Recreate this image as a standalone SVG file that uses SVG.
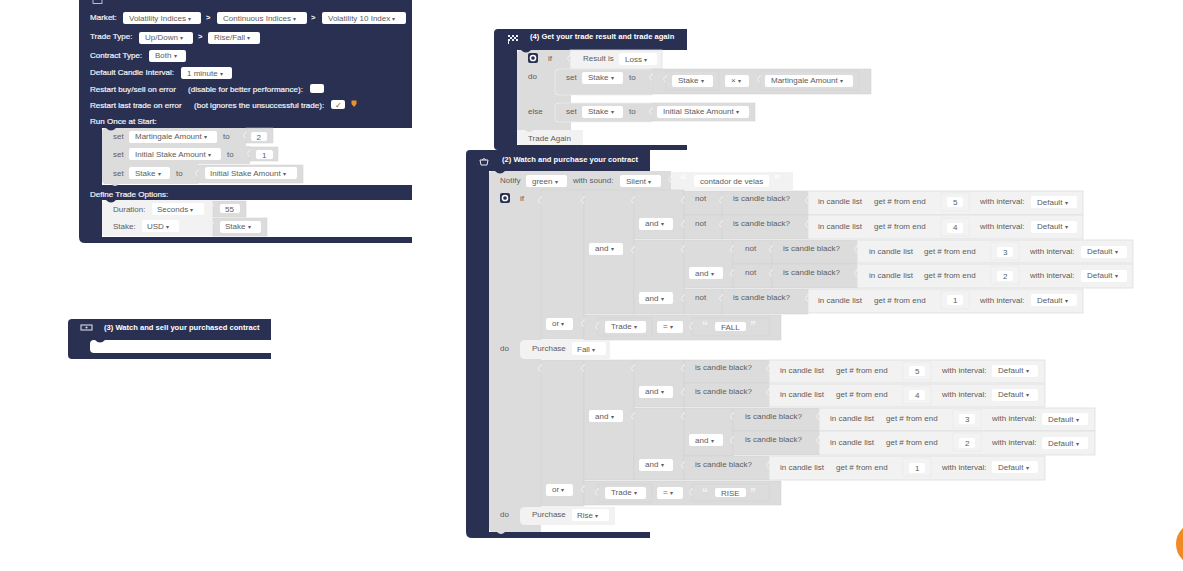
<svg xmlns="http://www.w3.org/2000/svg" width="1183" height="571" viewBox="0 0 1183 571">
<style>
text{font-family:"Liberation Sans",Arial,sans-serif;font-size:8px;fill:#5c5c5c}
.w{fill:#fff;font-weight:bold;font-size:7.6px}
.r{fill:#f2f4f8;stroke:#f2f4f8;stroke-width:.2px;font-size:8.05px}
.a{font-size:5.500px}
.q{fill:#f4f4f4;font-size:12px;font-weight:bold}
.navy{fill:#2a3052}
.g{fill:#dcdcdc;stroke:#d0d0d0;stroke-width:.5}
.gn{fill:#dcdcdc}
.gs{fill:#dcdcdc;stroke:#eeeeee;stroke-width:.7}
.l{fill:#f2f2f2;stroke:#dedede;stroke-width:.8}
.ln{fill:#f2f2f2}
.c{fill:#fff}
.t{fill:none;stroke:#f3f3f3;stroke-width:1}
.v{fill:#f3f3f3;stroke:#e6e6e6;stroke-width:.6}
</style>
<defs>
<path id="tab" class="t" d="M0 0v2c-3 0-3 5 0 5"/>
<path id="bump" class="navy" d="M0 0q5 5 10 0z"/>
<path id="bumpg" class="gn" d="M0 0q4 4 8 0z"/>
<g id="gear"><rect x="-5" y="-5" width="10" height="10" rx="2" fill="#2a3052"/><circle r="2.600" fill="none" stroke="#fff" stroke-width="1.500"/></g>
</defs>

<g id="block-trade-definition">
<path class="navy" d="M79 0H412V243H85q-6 0-6-6Z"/>
<rect x="93" y="-1" width="9" height="4.500" fill="none" stroke="#dfe1ea" stroke-width=".8"/>
<g id="field-market"><text class="r" x="90" y="20">Market:</text>
<rect class="c" x="123" y="12" width="78" height="12" rx="2"/><text x="129" y="20.500">Volatility Indices <tspan class="a">▾</tspan></text>
<text class="w" x="206" y="20">&gt;</text>
<rect class="c" x="217" y="12" width="90" height="12" rx="2"/><text x="223" y="20.500">Continuous Indices <tspan class="a">▾</tspan></text>
<text class="w" x="311" y="20">&gt;</text>
<rect class="c" x="322" y="12" width="84" height="12" rx="2"/><text x="328" y="20.500">Volatility 10 Index <tspan class="a">▾</tspan></text></g>
<g id="field-trade-type"><text class="r" x="90" y="39">Trade Type:</text>
<rect class="c" x="139" y="32" width="54" height="12" rx="2"/><text x="145" y="40">Up/Down <tspan class="a">▾</tspan></text>
<text class="w" x="198" y="39">&gt;</text>
<rect class="c" x="208" y="32" width="52" height="12" rx="2"/><text x="214" y="40">Rise/Fall <tspan class="a">▾</tspan></text></g>
<g id="field-contract"><text class="r" x="90" y="58">Contract Type:</text>
<rect class="c" x="149" y="50" width="37" height="12" rx="2"/><text x="155" y="58">Both <tspan class="a">▾</tspan></text></g>
<g id="field-candle"><text class="r" x="90" y="75">Default Candle Interval:</text>
<rect class="c" x="181" y="67" width="51" height="12" rx="2"/><text x="187" y="75.500">1 minute <tspan class="a">▾</tspan></text></g>
<g id="field-restart-buy"><text class="r" x="90" y="92">Restart buy/sell on error</text><text class="r" x="188" y="92">(disable for better performance):</text>
<rect class="c" x="310" y="84" width="14" height="9" rx="2"/></g>
<g id="field-restart-last"><text class="r" x="90" y="108">Restart last trade on error</text><text class="r" x="194" y="108">(bot ignores the unsuccessful trade):</text>
<rect class="c" x="331" y="100" width="14" height="9" rx="2"/><text x="334.500" y="108">✓</text>
<path d="M351.500 100.500h5v3.500l-2.500 3l-2.500-3z" fill="#e8912d"/></g>
<text class="r" x="90" y="124">Run Once at Start:</text>

<path class="c" d="M102 128H412V185H102Z"/>
<g id="set-martingale"><path class="gn" d="M102 132q0-4 4-4H246V146H102Z"/>
<rect class="g" x="246" y="128" width="27" height="15"/><use href="#tab" x="246" y="131"/>
<rect class="c" x="129" y="131" width="88" height="12" rx="2"/>
<text x="113" y="139">set</text><text x="135" y="139">Martingale Amount <tspan class="a">▾</tspan></text><text x="223" y="139">to</text>
<rect class="c" x="251" y="132" width="16" height="9" rx="2"/><text x="256.500" y="139.500">2</text></g>
<use href="#bump" x="106" y="128"/>
<g id="set-initial"><path class="gn" d="M102 146H250V164H102Z"/>
<rect class="g" x="250" y="147" width="28" height="14"/><use href="#tab" x="250" y="149"/>
<rect class="c" x="129" y="148" width="92" height="12" rx="2"/>
<text x="113" y="157">set</text><text x="135" y="157">Initial Stake Amount <tspan class="a">▾</tspan></text><text x="227" y="157">to</text>
<rect class="c" x="256" y="150" width="17" height="9" rx="2"/><text x="262" y="157.500">1</text></g>
<g id="set-stake"><path class="gn" d="M102 164H198V184H106q-4 0-4-4Z"/>
<rect class="g" x="198" y="165" width="105" height="18"/><use href="#tab" x="198" y="169"/>
<rect class="c" x="129" y="167" width="41" height="12" rx="2"/>
<text x="113" y="176">set</text><text x="135" y="176">Stake <tspan class="a">▾</tspan></text><text x="176" y="176">to</text>
<rect class="c" x="205" y="167" width="92" height="12" rx="2"/><text x="210" y="176">Initial Stake Amount <tspan class="a">▾</tspan></text></g>
<use href="#bumpg" x="111" y="184"/>
<text class="r" x="90" y="197">Define Trade Options:</text>
<path class="c" d="M102 200H412V237H102Z"/>
<g id="trade-options"><path class="ln" d="M106 200H213V236H106q-4 0-4-4V204q0-4 4-4Z"/>
<rect class="c" x="152" y="203" width="52" height="12" rx="2"/>
<text x="113" y="212">Duration:</text><text x="157" y="212">Seconds <tspan class="a">▾</tspan></text>
<rect class="c" x="142" y="220" width="37" height="12" rx="2"/>
<text x="113" y="229">Stake:</text><text x="147" y="229">USD <tspan class="a">▾</tspan></text>
<rect class="g" x="213" y="201" width="33" height="16"/><use href="#tab" x="213" y="204"/>
<rect class="c" x="220" y="204" width="20" height="9" rx="2"/><text x="225" y="212">55</text>
<rect class="g" x="213" y="218" width="54" height="18"/><use href="#tab" x="213" y="222"/>
<rect class="c" x="220" y="221" width="41" height="12" rx="2"/><text x="225" y="229">Stake <tspan class="a">▾</tspan></text></g>
<use href="#bump" x="106" y="200"/>
</g>

<g id="block-sell">
<path class="navy" d="M68 323q0-4 4-4H271V359H72q-4 0-4-4Z"/>
<rect x="81" y="325" width="11" height="5" fill="none" stroke="#e8e9ef" stroke-width="1"/><circle cx="86.500" cy="327.500" r="1" fill="#e8e9ef"/>
<text class="w" x="104" y="330">(3) Watch and sell your purchased contract</text>
<path class="c" d="M94 340H271V353H94q-4 0-4-4V344q0-4 4-4Z"/>
<use href="#bump" x="95" y="340"/>
</g>

<g id="block-result">
<path class="navy" d="M498 29H687V150H498q-4 0-4-4V33q0-4 4-4Z"/>
<path fill="#eceef3" d="M508 35h2v2h-2zM512 35h2v2h-2zM516 35h2v2h-2zM510 37h2v2h-2zM514 37h2v2h-2zM508 39h2v2h-2zM512 39h2v2h-2zM516 39h2v2h-2zM508 41h1v3h-1z"/>
<text class="w" x="530" y="39">(4) Get your trade result and trade again</text>
<path class="c" d="M517 50H687V145H517Z"/>
<g id="if-result"><path class="gn" d="M521 50H570V69H556V95H571V103H556V122H571V130H517V54q0-4 4-4Z"/>
<use href="#gear" x="533" y="58"/><text x="548" y="61">if</text><text x="528" y="79">do</text><text x="528" y="114">else</text>
<rect class="l" x="570" y="50" width="92" height="19"/><use href="#tab" x="570" y="54"/>
<text x="583" y="61">Result is</text><rect class="c" x="619" y="53" width="38" height="12" rx="2"/><text x="625" y="62">Loss <tspan class="a">▾</tspan></text>
</g>
<use href="#bump" x="521" y="50"/>
<g id="set-stake-mult"><path class="gs" d="M559 69H652V95H559q-4 0-4-4V73q0-4 4-4Z"/>
<rect class="c" x="582" y="72" width="41" height="12" rx="2"/><text x="566" y="80">set</text><text x="588" y="80">Stake <tspan class="a">▾</tspan></text><text x="629" y="80">to</text>
<rect class="g" x="652" y="69" width="219" height="25"/><use href="#tab" x="652" y="73"/>
<rect class="g" x="666" y="71" width="53" height="19"/><rect class="c" x="672" y="75" width="41" height="12" rx="2"/><text x="678" y="83">Stake <tspan class="a">▾</tspan></text><use href="#tab" x="666" y="75"/>
<rect class="c" x="725" y="75" width="24" height="12" rx="2"/><text x="731" y="83">× <tspan class="a">▾</tspan></text>
<rect class="g" x="760" y="71" width="99" height="19"/><rect class="c" x="765" y="75" width="88" height="12" rx="2"/><text x="771" y="83">Martingale Amount <tspan class="a">▾</tspan></text><use href="#tab" x="760" y="75"/>
</g>
<g id="set-stake-initial"><path class="gs" d="M559 103H652V122H559q-4 0-4-4V107q0-4 4-4Z"/>
<rect class="c" x="582" y="106" width="41" height="12" rx="2"/><text x="566" y="114">set</text><text x="588" y="114">Stake <tspan class="a">▾</tspan></text><text x="629" y="114">to</text>
<rect class="g" x="652" y="103" width="103" height="18"/><use href="#tab" x="652" y="107"/><rect class="c" x="657" y="106" width="92" height="12" rx="2"/><text x="663" y="114">Initial Stake Amount <tspan class="a">▾</tspan></text>
</g>
<g id="trade-again"><path class="ln" d="M517 130H583V145H521q-4 0-4-4Z"/><use href="#bumpg" x="525" y="130"/><text x="528" y="141">Trade Again</text></g>
</g>

<g id="block-purchase">
<path class="navy" d="M470 150H650V538H472q-6 0-6-6V154q0-4 4-4Z"/>
<path d="M480 160h8l-1 5h-6zM482 160q2-3 4 0" fill="none" stroke="#e8e9ef" stroke-width="1"/>
<text class="w" x="502" y="162">(2) Watch and purchase your contract</text>
<path class="c" d="M489 171H650V532H489Z"/>
<g id="notify"><path class="gn" d="M493 171H671V190H489V175q0-4 4-4Z"/>
<text x="500" y="183">Notify</text><rect class="c" x="526" y="175" width="41" height="12" rx="2"/><text x="532" y="184">green <tspan class="a">▾</tspan></text>
<text x="573" y="183">with sound:</text><rect class="c" x="620" y="175" width="41" height="12" rx="2"/><text x="626" y="184">Silent <tspan class="a">▾</tspan></text>
<rect class="ln" x="671" y="172" width="122" height="18"/><use href="#tab" x="671" y="175"/><text class="q" x="680" y="183.600" style="fill:#fff">“</text><rect class="c" x="694" y="175" width="75" height="12" rx="2"/><text x="700" y="184">contador de velas</text><text class="q" x="774" y="183.600" style="fill:#fff">”</text>
</g>
<use href="#bump" x="495" y="171"/>
<g id="if-do-block"><path class="gn" d="M489 190H541V339H541V532H493q-4 0-4-4Z"/>
<use href="#gear" x="505" y="198"/><text x="520" y="201">if</text><text x="500" y="351">do</text><text x="500" y="370">else if</text><text x="500" y="517">do</text>
</g>
<use href="#bumpg" x="497" y="532"/>

<g id="cond-1">
<rect class="g" x="541" y="190" width="43" height="149"/>
<rect class="c" x="546" y="318" width="27" height="12" rx="2"/><text x="552" y="326">or <tspan class="a">▾</tspan></text><use href="#tab" x="541" y="196"/>
<rect class="g" x="584" y="190" width="50" height="124"/><rect class="c" x="589" y="243" width="34" height="12" rx="2"/><text x="595" y="251">and <tspan class="a">▾</tspan></text><use href="#tab" x="584" y="196"/>
<rect class="g" x="634" y="190" width="50" height="49"/><rect class="c" x="639" y="218" width="34" height="12" rx="2"/><text x="645" y="226">and <tspan class="a">▾</tspan></text><use href="#tab" x="634" y="196"/>
<rect class="g" x="634" y="240" width="50" height="74"/><rect class="c" x="639" y="292" width="34" height="12" rx="2"/><text x="645" y="301">and <tspan class="a">▾</tspan></text><use href="#tab" x="634" y="246"/>
<rect class="g" x="684" y="240" width="49" height="48"/><rect class="c" x="689" y="267" width="34" height="12" rx="2"/><text x="695" y="276">and <tspan class="a">▾</tspan></text><use href="#tab" x="684" y="245"/>
<rect class="g" x="684" y="191" width="38" height="24"/><text x="695" y="201">not</text>
<rect class="g" x="722" y="191" width="86" height="24"/><text x="733" y="201">is candle black?</text>
<rect class="g" x="684" y="215" width="38" height="24"/><text x="695" y="226">not</text>
<rect class="g" x="722" y="215" width="86" height="24"/><text x="733" y="226">is candle black?</text>
<rect class="g" x="733" y="240" width="39" height="24"/><text x="745" y="251">not</text>
<rect class="g" x="772" y="240" width="85" height="24"/><text x="783" y="251">is candle black?</text>
<rect class="g" x="733" y="264" width="39" height="24"/><text x="745" y="275">not</text>
<rect class="g" x="772" y="264" width="85" height="24"/><text x="783" y="275">is candle black?</text>
<rect class="g" x="684" y="289" width="38" height="25"/><text x="695" y="300">not</text>
<rect class="g" x="722" y="289" width="86" height="25"/><text x="733" y="300">is candle black?</text>
<use href="#tab" x="684" y="196"/><use href="#tab" x="684" y="220"/><use href="#tab" x="722" y="196"/><use href="#tab" x="722" y="220"/><use href="#tab" x="733" y="245"/><use href="#tab" x="733" y="269"/><use href="#tab" x="772" y="245"/><use href="#tab" x="772" y="269"/><use href="#tab" x="684" y="294"/><use href="#tab" x="722" y="294"/>
</g>

<g id="list-1a" transform="translate(808 191)"><rect class="l" width="275" height="24"/><text x="10" y="13">in candle list</text><text x="66" y="13">get # from end</text><rect class="v" x="133" y="2" width="28" height="18"/><rect class="c" x="139" y="6" width="16" height="10" rx="2"/><text x="145" y="14">5</text><text x="172" y="13">with interval:</text><rect class="c" x="223" y="5" width="46" height="12" rx="2"/><text x="229" y="14">Default <tspan class="a">▾</tspan></text></g>
<g id="list-1b" transform="translate(808 215)"><rect class="l" width="275" height="24"/><text x="10" y="14">in candle list</text><text x="66" y="14">get # from end</text><rect class="v" x="133" y="3" width="28" height="18"/><rect class="c" x="139" y="8" width="16" height="10" rx="2"/><text x="145" y="15">4</text><text x="172" y="14">with interval:</text><rect class="c" x="223" y="6" width="46" height="12" rx="2"/><text x="229" y="14">Default <tspan class="a">▾</tspan></text></g>
<g id="list-1c" transform="translate(857 240)"><rect class="l" width="276" height="23"/><text x="12" y="14">in candle list</text><text x="67" y="14">get # from end</text><rect class="v" x="134" y="2" width="28" height="18"/><rect class="c" x="140" y="7" width="16" height="10" rx="2"/><text x="146" y="14.500">3</text><text x="173" y="14">with interval:</text><rect class="c" x="224" y="6" width="46" height="12" rx="2"/><text x="230" y="14">Default <tspan class="a">▾</tspan></text></g>
<g id="list-1d" transform="translate(857 264)"><rect class="l" width="276" height="24"/><text x="12" y="14">in candle list</text><text x="67" y="14">get # from end</text><rect class="v" x="134" y="2" width="28" height="18"/><rect class="c" x="140" y="7" width="16" height="10" rx="2"/><text x="146" y="14.500">2</text><text x="173" y="14">with interval:</text><rect class="c" x="224" y="6" width="46" height="12" rx="2"/><text x="230" y="14">Default <tspan class="a">▾</tspan></text></g>
<g id="list-1e" transform="translate(808 289)"><rect class="l" width="275" height="24"/><text x="10" y="14">in candle list</text><text x="66" y="14">get # from end</text><rect class="v" x="133" y="2" width="28" height="18"/><rect class="c" x="139" y="6" width="16" height="10" rx="2"/><text x="145" y="14">1</text><text x="172" y="14">with interval:</text><rect class="c" x="223" y="5" width="46" height="12" rx="2"/><text x="229" y="14">Default <tspan class="a">▾</tspan></text></g>
<use href="#tab" x="808" y="196"/><use href="#tab" x="808" y="220"/><use href="#tab" x="857" y="245"/><use href="#tab" x="857" y="269"/><use href="#tab" x="808" y="294"/>

<g id="trade-fall"><rect class="g" x="584" y="315" width="197" height="25"/><use href="#tab" x="584" y="319"/>
<rect class="g" x="598" y="318" width="54" height="18"/><use href="#tab" x="598" y="322"/><rect class="c" x="605" y="321" width="41" height="12" rx="2"/><text x="611" y="329">Trade <tspan class="a">▾</tspan></text>
<rect class="c" x="657" y="321" width="26" height="12" rx="2"/><text x="663" y="329">= <tspan class="a">▾</tspan></text>
<rect class="g" x="692" y="318" width="77" height="18"/><use href="#tab" x="692" y="322"/><text class="q" x="702" y="329.600">“</text><rect class="c" x="715" y="322" width="31" height="9" rx="2"/><text x="721" y="329.500">FALL</text><text class="q" x="750" y="329.600">”</text></g>
<g id="purchase-fall"><path class="ln" d="M525 340H610V359H525q-5 0-5-5V345q0-5 5-5Z"/><text x="532" y="351">Purchase</text><rect class="c" x="572" y="342" width="34" height="13" rx="2"/><text x="577" y="351.500">Fall <tspan class="a">▾</tspan></text></g>

<g id="cond-2">
<rect class="gn" x="489" y="360" width="52" height="146"/>
<rect class="g" x="541" y="360" width="43" height="146"/>
<rect class="c" x="546" y="484" width="27" height="12" rx="2"/><text x="552" y="492">or <tspan class="a">▾</tspan></text><use href="#tab" x="541" y="364"/>
<rect class="g" x="584" y="360" width="50" height="120"/><rect class="c" x="589" y="410" width="34" height="12" rx="2"/><text x="595" y="419">and <tspan class="a">▾</tspan></text><use href="#tab" x="584" y="364"/>
<rect class="g" x="634" y="360" width="50" height="47"/><rect class="c" x="639" y="386" width="34" height="12" rx="2"/><text x="645" y="394">and <tspan class="a">▾</tspan></text><use href="#tab" x="634" y="364"/>
<rect class="g" x="634" y="408" width="50" height="72"/><rect class="c" x="639" y="459" width="34" height="12" rx="2"/><text x="645" y="467">and <tspan class="a">▾</tspan></text><use href="#tab" x="634" y="412"/>
<rect class="g" x="684" y="408" width="49" height="48"/><rect class="c" x="689" y="434" width="34" height="12" rx="2"/><text x="695" y="443">and <tspan class="a">▾</tspan></text><use href="#tab" x="684" y="412"/>
<rect class="g" x="684" y="360" width="85" height="23"/><text x="695" y="370">is candle black?</text>
<rect class="g" x="684" y="383" width="85" height="24"/><text x="695" y="394">is candle black?</text>
<rect class="g" x="733" y="408" width="86" height="23"/><text x="745" y="419">is candle black?</text>
<rect class="g" x="733" y="431" width="86" height="24"/><text x="745" y="442">is candle black?</text>
<rect class="g" x="684" y="456" width="85" height="24"/><text x="695" y="467">is candle black?</text>
<use href="#tab" x="684" y="364"/><use href="#tab" x="684" y="388"/><use href="#tab" x="733" y="412"/><use href="#tab" x="733" y="436"/><use href="#tab" x="684" y="461"/>
</g>

<g id="list-2a" transform="translate(769 360)"><rect class="l" width="276" height="23"/><text x="11" y="13">in candle list</text><text x="67" y="13">get # from end</text><rect class="v" x="134" y="2" width="28" height="18"/><rect class="c" x="140" y="6" width="16" height="10" rx="2"/><text x="146" y="14">5</text><text x="173" y="13">with interval:</text><rect class="c" x="223" y="5" width="46" height="12" rx="2"/><text x="229" y="13">Default <tspan class="a">▾</tspan></text></g>
<g id="list-2b" transform="translate(769 384)"><rect class="l" width="276" height="23"/><text x="11" y="13">in candle list</text><text x="67" y="13">get # from end</text><rect class="v" x="134" y="2" width="28" height="18"/><rect class="c" x="140" y="6" width="16" height="10" rx="2"/><text x="146" y="14">4</text><text x="173" y="13">with interval:</text><rect class="c" x="223" y="5" width="46" height="12" rx="2"/><text x="229" y="13">Default <tspan class="a">▾</tspan></text></g>
<g id="list-2c" transform="translate(819 408)"><rect class="l" width="276" height="23"/><text x="11" y="13">in candle list</text><text x="67" y="13">get # from end</text><rect class="v" x="134" y="2" width="28" height="18"/><rect class="c" x="140" y="6" width="16" height="10" rx="2"/><text x="146" y="14">3</text><text x="173" y="13">with interval:</text><rect class="c" x="223" y="5" width="46" height="12" rx="2"/><text x="229" y="14">Default <tspan class="a">▾</tspan></text></g>
<g id="list-2d" transform="translate(819 431)"><rect class="l" width="276" height="24"/><text x="11" y="14">in candle list</text><text x="67" y="14">get # from end</text><rect class="v" x="134" y="2" width="28" height="18"/><rect class="c" x="140" y="7" width="16" height="10" rx="2"/><text x="146" y="15">2</text><text x="173" y="14">with interval:</text><rect class="c" x="223" y="6" width="46" height="12" rx="2"/><text x="229" y="15">Default <tspan class="a">▾</tspan></text></g>
<g id="list-2e" transform="translate(769 456)"><rect class="l" width="276" height="24"/><text x="11" y="14">in candle list</text><text x="67" y="14">get # from end</text><rect class="v" x="134" y="2" width="28" height="18"/><rect class="c" x="140" y="7" width="16" height="10" rx="2"/><text x="146" y="15">1</text><text x="173" y="14">with interval:</text><rect class="c" x="223" y="5" width="46" height="12" rx="2"/><text x="229" y="14">Default <tspan class="a">▾</tspan></text></g>
<use href="#tab" x="769" y="364"/><use href="#tab" x="769" y="388"/><use href="#tab" x="819" y="412"/><use href="#tab" x="819" y="436"/><use href="#tab" x="769" y="461"/>

<g id="trade-rise"><rect class="g" x="584" y="481" width="197" height="24"/><use href="#tab" x="584" y="485"/>
<rect class="g" x="598" y="484" width="54" height="18"/><use href="#tab" x="598" y="488"/><rect class="c" x="605" y="487" width="41" height="12" rx="2"/><text x="611" y="495">Trade <tspan class="a">▾</tspan></text>
<rect class="c" x="657" y="487" width="26" height="12" rx="2"/><text x="663" y="495">= <tspan class="a">▾</tspan></text>
<rect class="g" x="692" y="484" width="77" height="17"/><use href="#tab" x="692" y="488"/><text class="q" x="702" y="496.600">“</text><rect class="c" x="715" y="488" width="31" height="9" rx="2"/><text x="721" y="495.500">RISE</text><text class="q" x="750" y="496.600">”</text></g>
<g id="purchase-rise"><path class="ln" d="M525 507H615V525H525q-5 0-5-5V512q0-5 5-5Z"/><text x="532" y="517">Purchase</text><rect class="c" x="572" y="509" width="37" height="12" rx="2"/><text x="577" y="518">Rise <tspan class="a">▾</tspan></text></g>
</g>

<g id="connectors"></g>
<circle id="orange-button" cx="1198" cy="544" r="22" fill="#ef8a25"/>
</svg>
